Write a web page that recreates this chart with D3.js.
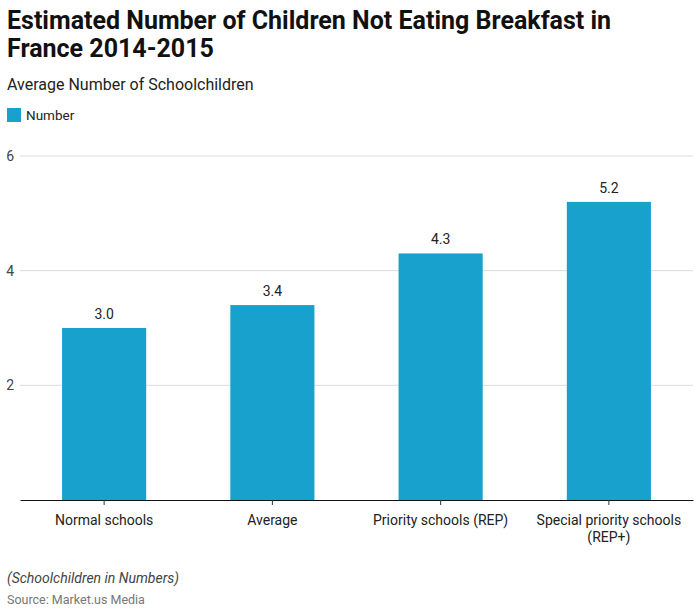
<!DOCTYPE html>
<html>
<head>
<meta charset="utf-8">
<script src="https://cdn.jsdelivr.net/npm/d3@7"></script>
<style>
  body { margin: 0; background: #fff; font-family: Roboto, "Noto Sans", sans-serif; }
</style>
</head>
<body>
<div id="chart"></div>
<script>
const categories = ["Normal schools", "Average", "Priority schools (REP)", "Special priority schools (REP+)"];
const values = [3.0, 3.4, 4.3, 5.2];
const yTicks = [2, 4, 6];

const width = 699;
const height = 614;
const margin = { top: 156, right: 6, bottom: 114, left: 20 };

const svg = d3.select("#chart")
  .append("svg")
  .attr("width", width)
  .attr("height", height);

const barColor = "#18a1cd";

// header
svg.append("text")
  .attr("x", 7).attr("y", 29)
  .style("font-size", "25px").style("font-weight", "bold").attr("fill", "#111")
  .text("Estimated Number of Children Not Eating Breakfast in");
svg.append("text")
  .attr("x", 7).attr("y", 57)
  .style("font-size", "25px").style("font-weight", "bold").attr("fill", "#111")
  .text("France 2014-2015");
svg.append("text")
  .attr("x", 7).attr("y", 90)
  .style("font-size", "16px").attr("fill", "#222")
  .text("Average Number of Schoolchildren");

svg.append("rect")
  .attr("x", 7).attr("y", 108).attr("width", 14).attr("height", 14)
  .attr("fill", barColor);
svg.append("text")
  .attr("x", 26).attr("y", 120)
  .style("font-size", "13.5px").attr("fill", "#222")
  .text("Number");

const x = d3.scaleBand()
  .domain(categories)
  .range([margin.left, width - margin.right])
  .paddingInner(0.5)
  .paddingOuter(0.25);

const y = d3.scaleLinear()
  .domain([0, 6])
  .range([height - margin.bottom, margin.top]);

// gridlines
svg.append("g")
  .selectAll("line")
  .data(yTicks)
  .enter()
  .append("line")
  .attr("x1", margin.left)
  .attr("x2", width - margin.right)
  .attr("y1", d => y(d))
  .attr("y2", d => y(d))
  .attr("stroke", "#dcdcdc");

svg.append("g")
  .selectAll("text")
  .data(yTicks)
  .enter()
  .append("text")
  .attr("x", 14)
  .attr("y", d => y(d))
  .attr("dy", "0.35em")
  .attr("text-anchor", "end")
  .style("font-size", "14px")
  .attr("fill", "#444")
  .text(d => d);

// bars
svg.selectAll(".bar")
  .data(values)
  .enter()
  .append("rect")
  .attr("class", "bar")
  .attr("x", (d, i) => x(categories[i]))
  .attr("y", d => y(d))
  .attr("width", x.bandwidth())
  .attr("height", d => y(0) - y(d))
  .attr("fill", barColor);

svg.selectAll(".val")
  .data(values)
  .enter()
  .append("text")
  .attr("class", "val")
  .attr("x", (d, i) => x(categories[i]) + x.bandwidth() / 2)
  .attr("y", d => y(d) - 9)
  .attr("text-anchor", "middle")
  .style("font-size", "14px")
  .attr("fill", "#222")
  .text(d => d.toFixed(1));

// x axis
const xAxis = svg.append("g")
  .attr("transform", `translate(0, ${y(0)})`)
  .call(d3.axisBottom(x).tickSize(5).tickSizeOuter(0));
xAxis.select(".domain").attr("stroke", "#111").attr("stroke-width", 1.2);
xAxis.selectAll(".tick line").attr("stroke", "#333");
xAxis.selectAll(".tick text").remove();

// wrapped category labels
const wrap = {
  "Special priority schools (REP+)": ["Special priority schools", "(REP+)"]
};
categories.forEach(c => {
  const lines = wrap[c] || [c];
  const t = svg.append("text")
    .attr("x", x(c) + x.bandwidth() / 2)
    .attr("y", y(0) + 25)
    .attr("text-anchor", "middle")
    .style("font-size", "14px")
    .attr("fill", "#222");
  lines.forEach((l, i) => {
    t.append("tspan")
      .attr("x", x(c) + x.bandwidth() / 2)
      .attr("dy", i === 0 ? 0 : 17)
      .text(l);
  });
});

// footer
svg.append("text")
  .attr("x", 7).attr("y", 583)
  .style("font-size", "14px").style("font-style", "italic").attr("fill", "#444")
  .text("(Schoolchildren in Numbers)");
svg.append("text")
  .attr("x", 7).attr("y", 604)
  .style("font-size", "12.5px").attr("fill", "#777")
  .text("Source: Market.us Media");
</script>
</body>
</html>
